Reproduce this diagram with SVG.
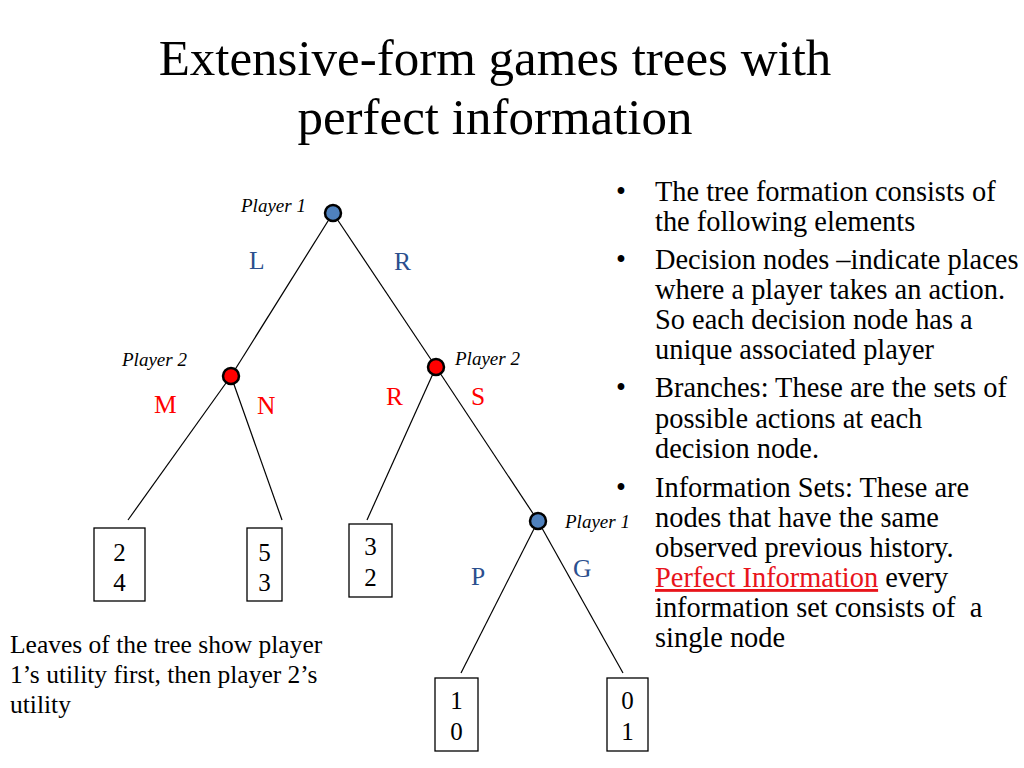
<svg xmlns="http://www.w3.org/2000/svg" width="1024" height="768" viewBox="0 0 1024 768">
<style>
.t{font-family:"Liberation Serif","Times New Roman",serif;fill:#000}
.title{font-size:51px}
.body{font-size:28.4px}
.pl{font-size:19px;font-style:italic}
.lab{font-size:25.5px}
.note{font-size:25.5px}
.blue{fill:#2B4F8E}
.red{fill:#FF0000}
.num{font-size:25px;text-anchor:middle}
.edge{stroke:#000;stroke-width:1.2;fill:none}
.box{fill:#fff;stroke:#000;stroke-width:1.3}
.nb{fill:#4F81BD;stroke:#000;stroke-width:2.5}
.nr{fill:#FF0000;stroke:#000;stroke-width:2.5}
</style>
<rect width="1024" height="768" fill="#fff"/>
<g id="title" class="t title" text-anchor="middle">
<text x="495" y="75">Extensive-form games trees with</text>
<text x="495" y="134">perfect information</text>
</g>
<g id="connectors">
<line class="edge" x1="333" y1="213" x2="231" y2="376"/>
<line class="edge" x1="333" y1="213" x2="436" y2="367"/>
<line class="edge" x1="231" y1="376" x2="128" y2="520"/>
<line class="edge" x1="231" y1="376" x2="282" y2="520"/>
<line class="edge" x1="436" y1="367" x2="367" y2="520"/>
<line class="edge" x1="436" y1="367" x2="538" y2="521"/>
<line class="edge" x1="538" y1="521" x2="461" y2="673"/>
<line class="edge" x1="538" y1="521" x2="623" y2="673"/>
</g>
<g id="root">
<circle class="nb" cx="333" cy="213" r="8"/>
<text class="t pl" x="241" y="212">Player 1</text>
</g>
<g id="p2left">
<circle class="nr" cx="231" cy="376" r="8"/>
<text class="t pl" x="122" y="366">Player 2</text>
</g>
<g id="p2right">
<circle class="nr" cx="436" cy="367" r="8"/>
<text class="t pl" x="455" y="365">Player 2</text>
</g>
<g id="p1bottom">
<circle class="nb" cx="538" cy="521" r="8"/>
<text class="t pl" x="565" y="528">Player 1</text>
</g>
<g id="edge-labels" class="t lab">
<text class="blue" x="249" y="269">L</text>
<text class="blue" x="394" y="270">R</text>
<text class="red" x="154" y="413">M</text>
<text class="red" x="257" y="414">N</text>
<text class="red" x="386" y="405">R</text>
<text class="red" x="471" y="405">S</text>
<text class="blue" x="471" y="585">P</text>
<text class="blue" x="573" y="577">G</text>
</g>
<g id="leaf24">
<rect class="box" x="94" y="528" width="51" height="73"/>
<text class="t num" x="119.5" y="561">2</text>
<text class="t num" x="119.5" y="591">4</text>
</g>
<g id="leaf53">
<rect class="box" x="247" y="528" width="35" height="73"/>
<text class="t num" x="264.5" y="561">5</text>
<text class="t num" x="264.5" y="591">3</text>
</g>
<g id="leaf32">
<rect class="box" x="349" y="524" width="43" height="73"/>
<text class="t num" x="370.5" y="555">3</text>
<text class="t num" x="370.5" y="586">2</text>
</g>
<g id="leaf10">
<rect class="box" x="435" y="678" width="43" height="73"/>
<text class="t num" x="456.5" y="709">1</text>
<text class="t num" x="456.5" y="740">0</text>
</g>
<g id="leaf01">
<rect class="box" x="607" y="678" width="41" height="73"/>
<text class="t num" x="627.5" y="709">0</text>
<text class="t num" x="627.5" y="740">1</text>
</g>
<g id="note" class="t note">
<text x="10" y="653">Leaves of the tree show player</text>
<text x="10" y="683">1’s utility first, then player 2’s</text>
<text x="10" y="713">utility</text>
</g>
<g id="bullets" class="t body">
<text x="616" y="201">•</text>
<text x="655" y="201">The tree formation consists of</text>
<text x="655" y="231">the following elements</text>
<text x="616" y="269">•</text>
<text x="655" y="269">Decision nodes –indicate places</text>
<text x="655" y="299">where a player takes an action.</text>
<text x="655" y="329">So each decision node has a</text>
<text x="655" y="359">unique associated player</text>
<text x="616" y="397">•</text>
<text x="655" y="397">Branches: These are the sets of</text>
<text x="655" y="428">possible actions at each</text>
<text x="655" y="458">decision node.</text>
<text x="616" y="497">•</text>
<text x="655" y="497">Information Sets: These are</text>
<text x="655" y="527">nodes that have the same</text>
<text x="655" y="557">observed previous history.</text>
<text x="655" y="587"><tspan fill="#E8141B" text-decoration="underline">Perfect Information</tspan> every</text>
<text x="655" y="617" xml:space="preserve">information set consists of  a</text>
<text x="655" y="647">single node</text>
</g>
</svg>
